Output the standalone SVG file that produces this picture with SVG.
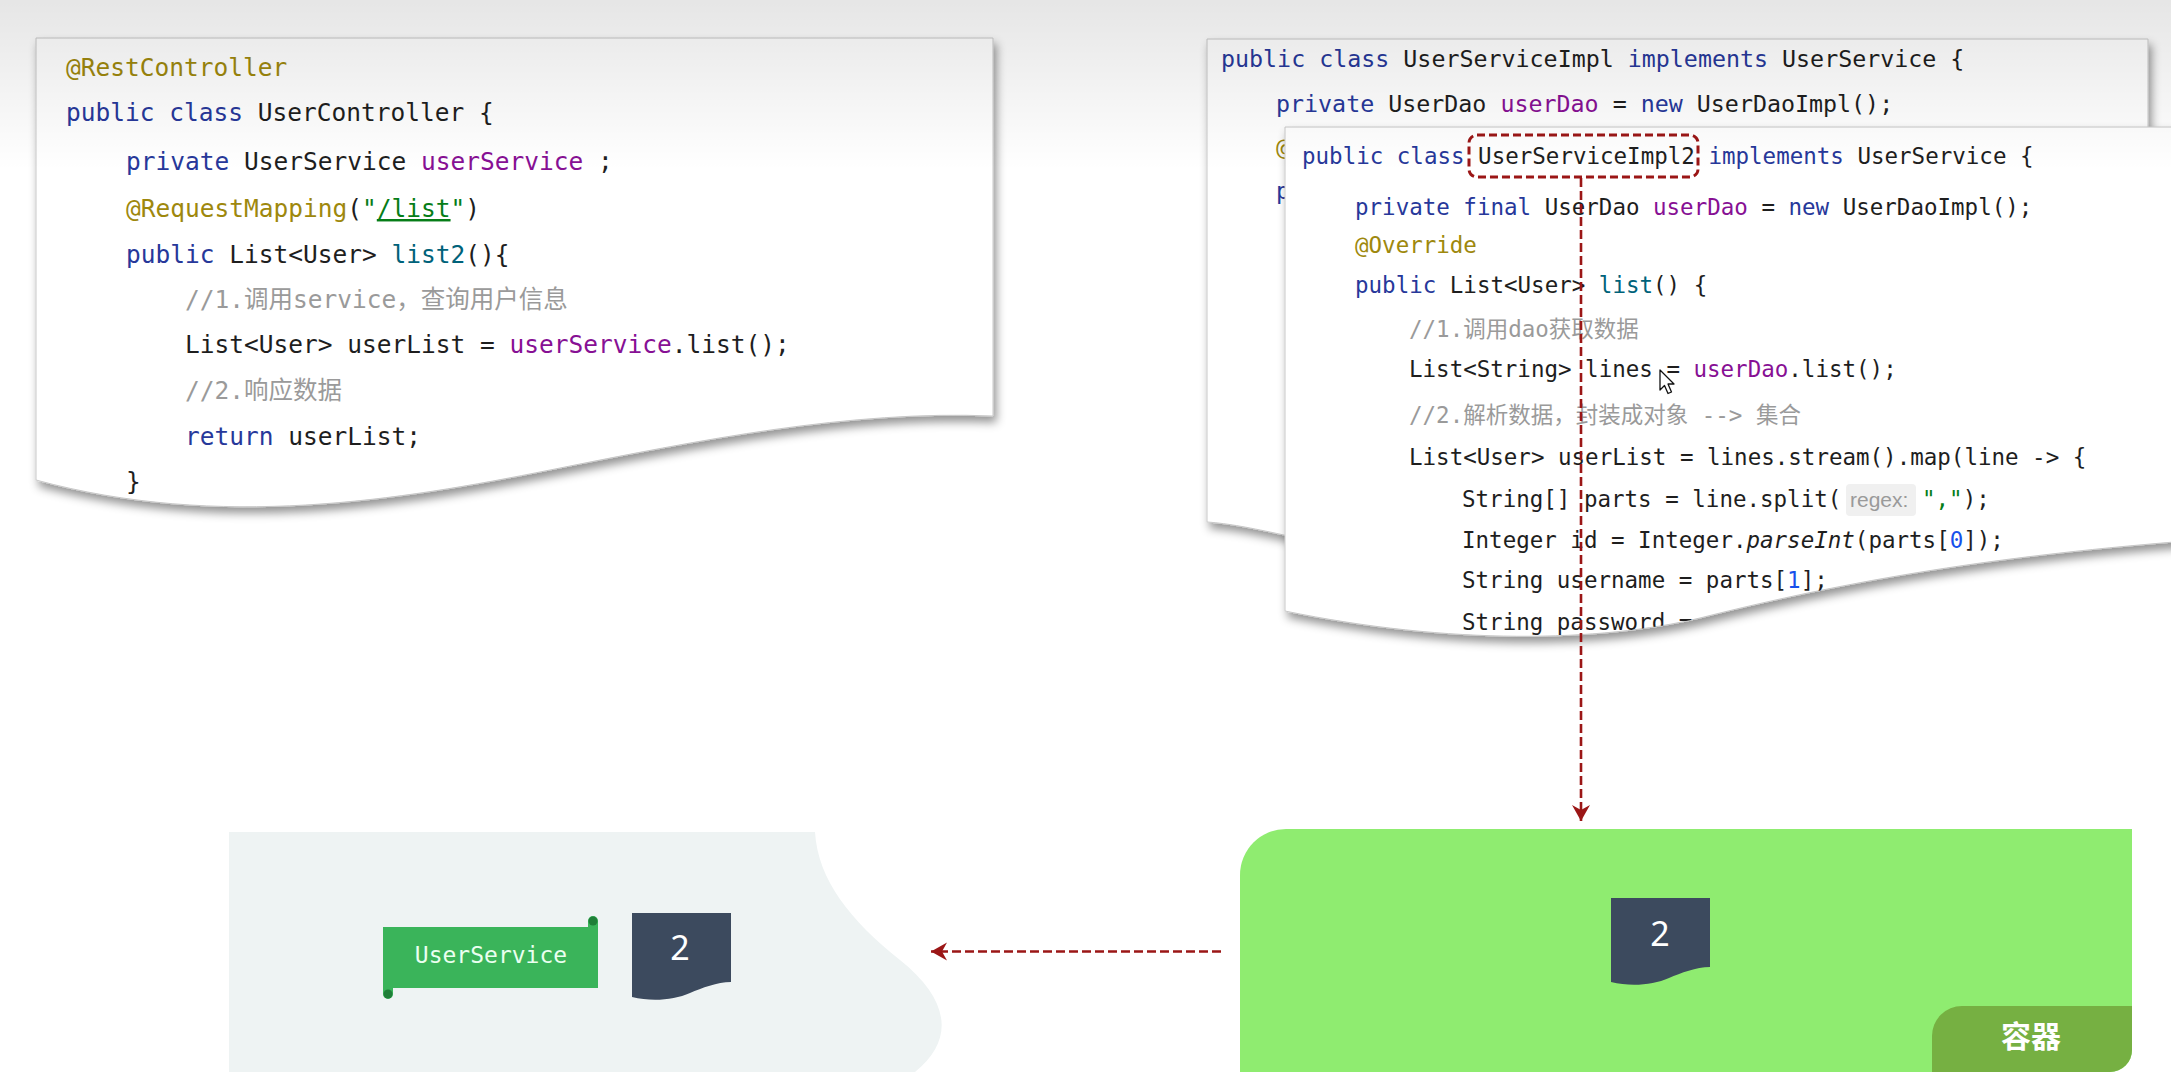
<svg xmlns="http://www.w3.org/2000/svg" width="2171" height="1072" viewBox="0 0 2171 1072">
<defs>
<style>
.code{font-family:"DejaVu Sans Mono","Noto Sans CJK SC",monospace;fill:#1e1e1e;white-space:pre}
.c1{font-size:24.5px}
.c2{font-size:23.3px}
.c3{font-size:22.5px}
.kw{fill:#27389a}
.an{fill:#9e880d}
.fd{fill:#871094}
.md{fill:#00627a}
.cm{fill:#9a9a9a}
.st{fill:#067d17}
.nm{fill:#1750eb}
.card{fill:#ffffff;stroke:#c8c8c8;stroke-width:1}
.conn{fill:none;stroke:#9b1616;stroke-width:2.6;stroke-dasharray:9 4}
.doc{fill:#3c4a5e}
.num{font-family:"Noto Sans","Liberation Sans",sans-serif;font-size:34px;fill:#ffffff;text-anchor:middle}
</style>
<filter id="sh" x="-5%" y="-5%" width="115%" height="120%">
<feDropShadow dx="3" dy="6" stdDeviation="5" flood-color="#000" flood-opacity="0.42"/>
</filter>
<linearGradient id="topfade" x1="0" y1="0" x2="0" y2="1">
<stop offset="0" stop-color="#000" stop-opacity="0.1"/>
<stop offset="1" stop-color="#000" stop-opacity="0"/>
</linearGradient>
<clipPath id="clipL"><path d="M36,38 H993 V416 C850,410 700,440 550,470 C400,500 220,530 36,480 Z"/></clipPath>
<clipPath id="clipF"><path d="M1285,127 H2200 V540 C2000,555 1850,580 1700,618 C1600,642 1450,645 1285,611 Z"/></clipPath>
<marker id="arr" markerUnits="userSpaceOnUse" markerWidth="18" markerHeight="20" viewBox="0 0 18 20" refX="17" refY="10" orient="auto">
<path d="M1,1 L17,10 L1,19 L6,10 Z" fill="#9b1616"/>
</marker>
</defs>
<rect x="0" y="0" width="2171" height="1072" fill="#ffffff"/>

<g id="controller-card">
<path class="card" filter="url(#sh)" d="M36,38 H993 V416 C850,410 700,440 550,470 C400,500 220,530 36,480 Z"/>
<g clip-path="url(#clipL)">
<text class="code c1" x="66" y="76"><tspan class="an">@RestController</tspan></text>
<text class="code c1" x="66" y="121"><tspan class="kw">public class </tspan>UserController {</text>
<text class="code c1" x="126" y="170"><tspan class="kw">private </tspan>UserService <tspan class="fd">userService</tspan> ;</text>
<text class="code c1" x="126" y="217"><tspan class="an">@RequestMapping</tspan>(<tspan class="st">"<tspan text-decoration="underline">/list</tspan>"</tspan>)</text>
<text class="code c1" x="126" y="263"><tspan class="kw">public </tspan>List&lt;User&gt; <tspan class="md">list2</tspan>(){</text>
<text class="code c1 cm" x="185" y="308">//1.调用service，查询用户信息</text>
<text class="code c1" x="185" y="353">List&lt;User&gt; userList = <tspan class="fd">userService</tspan>.list();</text>
<text class="code c1 cm" x="185" y="399">//2.响应数据</text>
<text class="code c1" x="185" y="445"><tspan class="kw">return </tspan>userList;</text>
<text class="code c1" x="126" y="490">}</text>
</g>
</g>

<g id="impl-card">
<path class="card" filter="url(#sh)" d="M1207,39 H2148 V500 C1900,520 1600,600 1400,560 C1300,540 1250,525 1207,522 Z"/>
<text class="code c2" x="1221" y="67"><tspan class="kw">public class </tspan>UserServiceImpl <tspan class="kw">implements </tspan>UserService {</text>
<text class="code c2" x="1276" y="112"><tspan class="kw">private </tspan>UserDao <tspan class="fd">userDao</tspan> = <tspan class="kw">new </tspan>UserDaoImpl();</text>
<text class="code c2 an" x="1276" y="155">@</text>
<text class="code c2 kw" x="1276" y="199">p</text>
</g>

<g id="impl2-card">
<path class="card" filter="url(#sh)" d="M1285,127 H2200 V540 C2000,555 1850,580 1700,618 C1600,642 1450,645 1285,611 Z"/>
<g clip-path="url(#clipF)">
<text class="code c3" x="1302" y="164"><tspan class="kw">public class </tspan>UserServiceImpl2 <tspan class="kw">implements </tspan>UserService {</text>
<text class="code c3" x="1355" y="215"><tspan class="kw">private final </tspan>UserDao <tspan class="fd">userDao</tspan> = <tspan class="kw">new </tspan>UserDaoImpl();</text>
<text class="code c3 an" x="1355" y="253">@Override</text>
<text class="code c3" x="1355" y="293"><tspan class="kw">public </tspan>List&lt;User&gt; <tspan class="md">list</tspan>() {</text>
<text class="code c3 cm" x="1409" y="337">//1.调用dao获取数据</text>
<text class="code c3" x="1409" y="377">List&lt;String&gt; lines = <tspan class="fd">userDao</tspan>.list();</text>
<text class="code c3 cm" x="1409" y="423">//2.解析数据，封装成对象 --&gt; 集合</text>
<text class="code c3" x="1409" y="465">List&lt;User&gt; userList = lines.stream().map(line -&gt; {</text>
<rect x="1846" y="484" width="70" height="32" rx="4" fill="#f0f0f0"/>
<text x="1850" y="507" font-family="'Liberation Sans','Noto Sans',sans-serif" font-size="21" fill="#9a9a9a">regex:</text>
<text class="code c3" x="1462" y="507">String[] parts = line.split(<tspan x="1922" class="st">","</tspan>);</text>
<text class="code c3" x="1462" y="548">Integer id = Integer.<tspan font-style="italic">parseInt</tspan>(parts[<tspan class="nm">0</tspan>]);</text>
<text class="code c3" x="1462" y="588">String username = parts[<tspan class="nm">1</tspan>];</text>
<text class="code c3" x="1462" y="630">String password = pa</text>
</g>
<rect x="1469" y="135" width="229" height="42" rx="8" fill="none" stroke="#9b1616" stroke-width="3" stroke-dasharray="8 4"/>
<path d="M1660,370 L1660,390 L1664.5,385.5 L1668,393.5 L1671.5,392 L1668,384 L1674,384 Z" fill="#ffffff" stroke="#111" stroke-width="1.3" stroke-linejoin="round"/>
</g>

<g id="client-panel">
<path d="M229,832 H815 C818,880 850,920 900,960 C950,1000 955,1040 915,1072 H229 Z" fill="#eef3f3"/>
</g>

<g id="userservice-banner">
<path d="M383,927 H588 V921 A5,5 0 0 1 598,921 V988 H393 V994 A5,5 0 0 1 383,994 Z" fill="#3ab45a"/>
<circle cx="593" cy="921" r="4.5" fill="#1f7f38"/>
<circle cx="388" cy="994" r="4.5" fill="#1f7f38"/>
<text x="491" y="963" text-anchor="middle" font-family="'DejaVu Sans Mono',monospace" font-size="23" fill="#eafff0">UserService</text>
</g>

<g id="bean-left">
<path class="doc" d="M632,913 h99 v69 c-14,0 -29,6 -41,11 c-16,7 -38,9 -58,4 z"/>
<text class="num" x="680" y="960">2</text>
</g>

<g id="container">
<path d="M1240,875 A46,46 0 0 1 1286,829 H2132 V1050 A22,22 0 0 1 2110,1072 H1240 Z" fill="#8fec70"/>
<path d="M1932,1036 A30,30 0 0 1 1962,1006 H2132 V1050 A22,22 0 0 1 2110,1072 H1932 Z" fill="#76b042"/>
<text x="2031" y="1047" text-anchor="middle" font-family="'Noto Sans CJK SC',sans-serif" font-weight="700" font-size="30" fill="#ffffff">容器</text>
</g>

<g id="bean-right">
<path class="doc" d="M1611,898 h99 v69 c-14,0 -29,6 -41,11 c-16,7 -38,9 -58,4 z"/>
<text class="num" x="1660" y="946">2</text>
</g>

<g id="connectors">
<path class="conn" d="M1581,178 V821" marker-end="url(#arr)"/>
<path class="conn" d="M1221,951.5 H931" marker-end="url(#arr)"/>
</g>

<rect x="0" y="0" width="2171" height="170" fill="url(#topfade)"/>
</svg>
